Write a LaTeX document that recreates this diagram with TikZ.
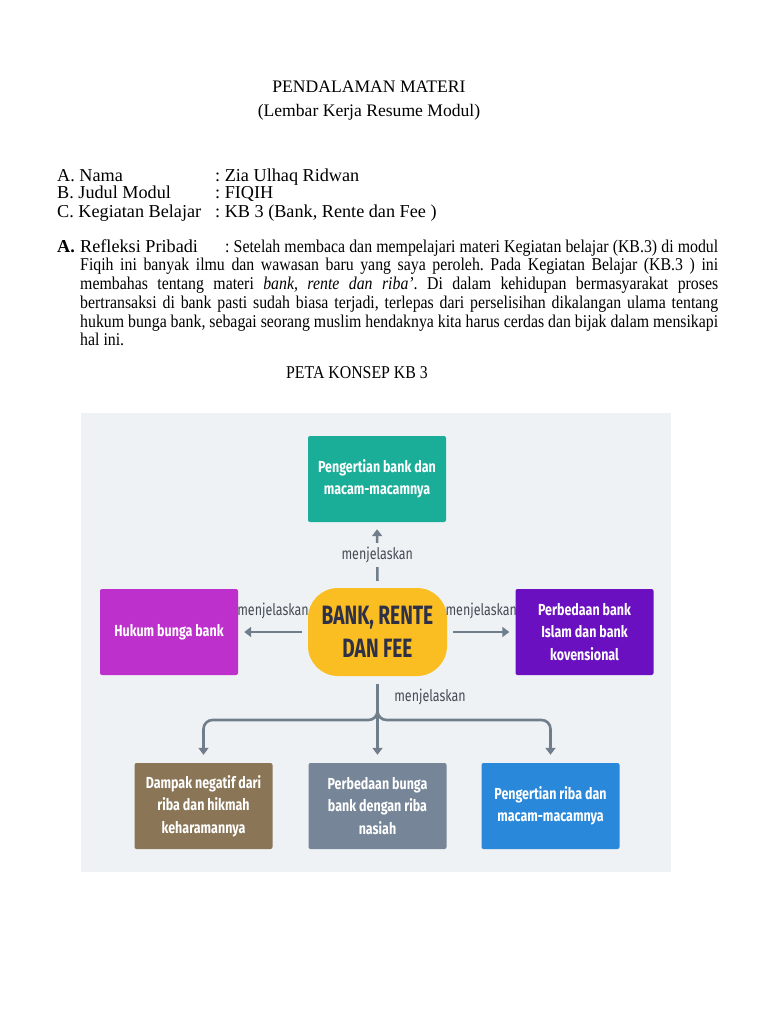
\documentclass[tikz,border=0pt]{standalone}
\usepackage{fontspec}
\setmainfont{Liberation Serif}
\newfontfamily\narrowserif[FakeStretch=0.88]{Liberation Serif}
\newfontfamily\dg[FakeStretch=0.78]{Fira Sans}
\newfontfamily\dgc[FakeStretch=0.72]{Fira Sans}
\usetikzlibrary{arrows.meta}
\definecolor{bgc}{RGB}{239,242,245}
\definecolor{tealc}{RGB}{26,173,152}
\definecolor{magc}{RGB}{190,48,204}
\definecolor{purc}{RGB}{106,16,192}
\definecolor{yelc}{RGB}{250,190,35}
\definecolor{brnc}{RGB}{138,117,87}
\definecolor{grac}{RGB}{118,133,151}
\definecolor{bluc}{RGB}{42,136,218}
\definecolor{arrc}{RGB}{112,126,140}
\definecolor{lblc}{RGB}{70,76,86}
\definecolor{ctrc}{RGB}{45,48,70}
\begin{document}
\frenchspacing
\begin{tikzpicture}[x=1pt,y=-1pt,
  txt/.style={anchor=base west, inner sep=0pt, font=\fontsize{18.2}{22}\selectfont},
  ptxt/.style={anchor=base west, inner sep=0pt, font=\narrowserif\fontsize{18}{22}\selectfont},
  box/.style={rectangle, rounded corners=2pt, minimum width=138pt, minimum height=86pt,
    inner sep=0pt, text=white, align=center, font=\dg\bfseries\fontsize{16}{22.5}\selectfont},
  lbl/.style={inner sep=2pt, text=lblc, font=\dg\fontsize{16}{18}\selectfont},
  conn/.style={draw=arrc, line width=2.6pt},
  arr/.style={conn, -{Triangle[length=7pt,width=10pt]}}
]
\fill[white] (0,0) rectangle (768,1024);
\useasboundingbox (0,0) rectangle (768,1024);

% header
\node[anchor=base, inner sep=0pt, font=\fontsize{17.6}{22}\selectfont] (t1) at (369,93) {PENDALAMAN MATERI};
\node[anchor=base, inner sep=0pt, font=\fontsize{17.6}{22}\selectfont] (t2) at (369,117) {(Lembar Kerja Resume Modul)};

\node[txt] (la) at (57,182) {A. Nama};
\node[txt] (va) at (215,182) {: Zia Ulhaq Ridwan};
\node[txt] (lb) at (57,199) {B. Judul Modul};
\node[txt] (vb) at (215,199) {: FIQIH};
\node[txt] (lc) at (57,218) {C. Kegiatan Belajar};
\node[txt] (vc) at (215,218) {: KB 3 (Bank, Rente dan Fee )};

% paragraph
\node[txt] (r1a) at (57,252) {\bfseries A.};
\node[txt] (r1b) at (80,252) {Refleksi Pribadi};
\node[ptxt] (r1d) at (225,252) {\hbox to 493pt{: Setelah membaca dan mempelajari materi Kegiatan belajar (KB.3) di modul}};
\node[ptxt] (r2) at (80,270) {\hbox to 638pt{Fiqih ini banyak ilmu dan wawasan baru yang saya peroleh. Pada Kegiatan Belajar (KB.3 ) ini}};
\node[ptxt] (r3) at (80,289) {\hbox to 638pt{membahas tentang materi \itshape bank, rente dan riba’\upshape. Di dalam kehidupan bermasyarakat proses}};
\node[ptxt] (r4) at (80,308) {\hbox to 638pt{bertransaksi di bank pasti sudah biasa terjadi, terlepas dari perselisihan dikalangan ulama tentang}};
\node[ptxt] (r5) at (80,327) {\hbox to 638pt{hukum bunga bank, sebagai seorang muslim hendaknya kita harus cerdas dan bijak dalam mensikapi}};
\node[ptxt] (r6) at (80,345) {hal ini.};
\node[ptxt, anchor=base] (peta) at (357,378) {PETA KONSEP KB 3};

% diagram background
\fill[bgc] (81,413) rectangle (671,872);

% nodes
\node[box, fill=tealc] (top) at (377,479) {Pengertian bank dan\\macam-macamnya};
\node[box, fill=magc] (left) at (169,632) {Hukum bunga bank};
\node[box, fill=purc] (right) at (584.5,632) {Perbedaan bank\\Islam dan bank\\kovensional};
\node[rectangle, rounded corners=30pt, fill=yelc, minimum width=139pt, minimum height=88pt,
  inner sep=0pt, align=center, text=ctrc, font=\dgc\bfseries\fontsize{26.5}{33}\selectfont] (c) at (377.5,632) {BANK, RENTE\\DAN FEE};
\node[box, fill=brnc] (bl) at (203.5,806) {Dampak negatif dari\\riba dan hikmah\\keharamannya};
\node[box, fill=grac] (bm) at (377.5,806) {Perbedaan bunga\\bank dengan riba\\nasiah};
\node[box, fill=bluc] (br) at (550.5,806) {Pengertian riba dan\\macam-macamnya};

% connectors
\draw[arr, shorten <=7pt, shorten >=7pt] (c.north) -- node[lbl, fill=bgc, inner sep=4pt] (lt) {menjelaskan} (top.south);
\draw[arr, shorten <=6pt, shorten >=6pt] (c.west) -- node[lbl, yshift=21pt] (ll) {menjelaskan} (left.east);
\draw[arr, shorten <=6pt, shorten >=6pt] (c.east) -- node[lbl, yshift=21pt] (lr) {menjelaskan} (right.west);
\coordinate (J) at (377.5,720);
\draw[arr, rounded corners=9pt, shorten <=8pt, shorten >=8pt] (c.south) -- (J) -| (bl.north);
\draw[arr, rounded corners=9pt, shorten <=8pt, shorten >=8pt] (c.south) -- (J) -| (br.north);
\draw[arr, shorten <=8pt, shorten >=8pt] (c.south) -- (bm.north);
\node[lbl] (lb2) at (430,697) {menjelaskan};
\end{tikzpicture}
\end{document}
